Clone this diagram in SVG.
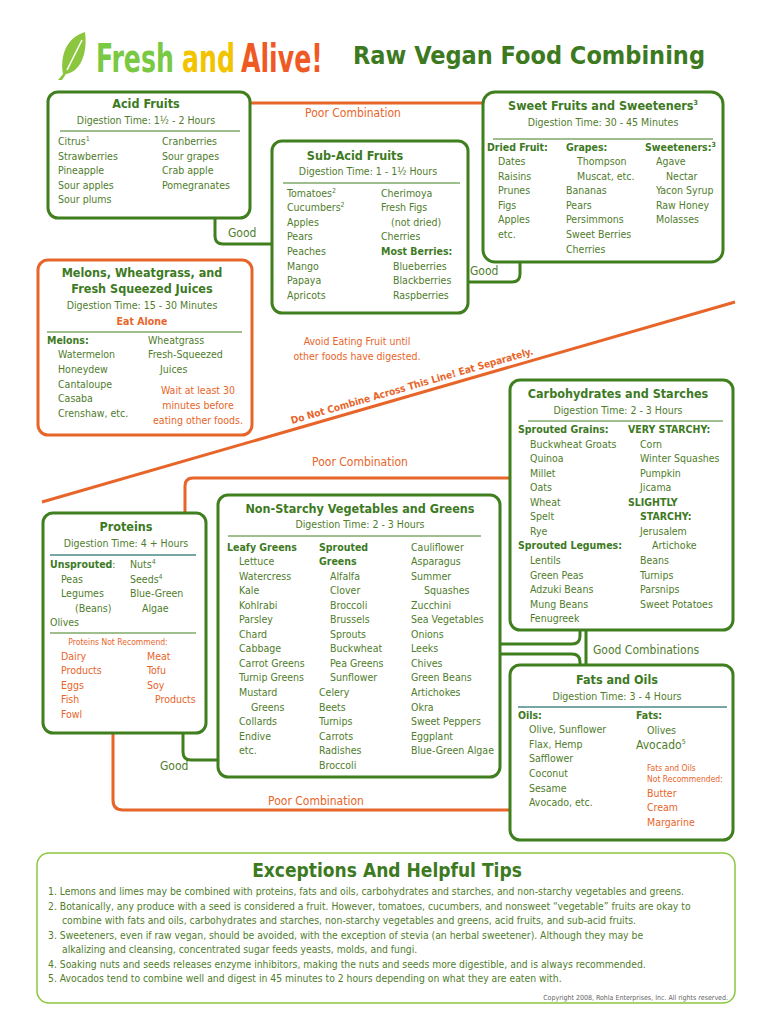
<svg xmlns="http://www.w3.org/2000/svg" width="768" height="1024" viewBox="0 0 768 1024">
<style>
text{font-family:"DejaVu Sans Condensed","Liberation Sans",sans-serif;fill:#4f7d2c;font-size:10.5px}
.t{font-size:12.5px;font-weight:bold;fill:#3d7a1f;text-anchor:middle}
.d{text-anchor:middle;font-size:10.5px}
.b{font-weight:bold;fill:#3d7a1f}
.o{fill:#e8652a}
.gb{fill:none;stroke:#3f7f1e;stroke-width:3}
.ob{fill:none;stroke:#e8652a;stroke-width:3}
.gl{stroke:#3f7f1e;stroke-width:1}
.tl{stroke:#4a8a86;stroke-width:1.5}
.cg{fill:none;stroke:#3f7f1e;stroke-width:3}
.co{fill:none;stroke:#e8652a;stroke-width:3}
.lab{font-size:12px}
.s{font-size:7px}
.tip{font-size:10.3px}
.h{font-family:"DejaVu Sans Condensed",sans-serif;font-size:28px;font-weight:bold}
</style>
<rect width="768" height="1024" fill="#fff"/>
<g id="header">
<path d="M85,32 C66,38 60,56 63,74 L58,80 L62,80 L66,74 C80,72 88,54 85,32 Z" fill="#8cc63f"/>
<path d="M82,40 L67,70" stroke="#fff" stroke-width="1.5"/>
<g transform="translate(0,72) scale(1,1.4)">
<text class="h" x="96" y="0" style="fill:#7ac943">Fresh</text>
<text class="h" x="182" y="0" style="fill:#f2c400">and</text>
<text class="h" x="241" y="0" style="fill:#ef5a24">Alive!</text>
</g>
<text x="353" y="64" textLength="352" lengthAdjust="spacingAndGlyphs" style="font-size:25px;font-weight:bold;fill:#3d7a1f">Raw Vegan Food Combining</text>
</g>
<g id="connectors">
<path class="co" d="M250,103 H483"/>
<text class="o lab" x="353" y="117" text-anchor="middle">Poor Combination</text>
<path class="cg" d="M215,218 V236 Q215,244 223,244 H272"/>
<text class="lab" x="228" y="237">Good</text>
<path class="cg" d="M520,262 V274 Q520,282 512,282 H468"/>
<text class="lab" x="470" y="275">Good</text>
<path class="co" d="M42,502 L735,302"/>
<text class="o b" x="0" y="0" transform="translate(292,424) rotate(-16.1)" style="font-size:10px;fill:#e8652a">Do Not Combine Across This Line! Eat Separately.</text>
<text class="o d" x="357" y="345">Avoid Eating Fruit until</text>
<text class="o d" x="357" y="360">other foods have digested.</text>
<path class="co" d="M510,478 H193 Q185,478 185,486 V513"/>
<text class="o lab" x="360" y="466" text-anchor="middle">Poor Combination</text>
<path class="co" d="M113,733 V800 Q113,810 123,810 H510"/>
<text class="o lab" x="316" y="805" text-anchor="middle">Poor Combination</text>
<path class="cg" d="M183,733 V752 Q183,760 191,760 H218"/>
<text class="lab" x="160" y="770">Good</text>
<path class="cg" d="M500,644 H572 Q580,644 580,636 V630 M500,654 H572 Q580,654 580,662 V665 M586,630 V665"/>
<text class="lab" x="593" y="654">Good Combinations</text>
</g>
<g id="acid">
<rect class="gb" x="48" y="92" width="202" height="126" rx="10"/>
<text class="t" x="146" y="108">Acid Fruits</text>
<text class="d" x="146" y="124">Digestion Time: 1½ - 2 Hours</text>
<line class="gl" x1="60" y1="131" x2="240" y2="131"/>
<text x="58" y="145">Citrus<tspan class="s" dy="-4">1</tspan></text>
<text x="58" y="160">Strawberries</text><text x="58" y="174">Pineapple</text><text x="58" y="189">Sour apples</text><text x="58" y="203">Sour plums</text>
<text x="162" y="145">Cranberries</text><text x="162" y="160">Sour grapes</text><text x="162" y="174">Crab apple</text><text x="162" y="189">Pomegranates</text>
</g>
<g id="subacid">
<rect class="gb" x="272" y="141" width="196" height="172" rx="10"/>
<text class="t" x="355" y="160">Sub-Acid Fruits</text>
<text class="d" x="368" y="175">Digestion Time: 1 - 1½ Hours</text>
<line class="gl" x1="283" y1="183" x2="460" y2="183"/>
<text x="287" y="197">Tomatoes<tspan class="s" dy="-4">2</tspan></text>
<text x="287" y="211">Cucumbers<tspan class="s" dy="-4">2</tspan></text>
<text x="287" y="226">Apples</text><text x="287" y="240">Pears</text><text x="287" y="255">Peaches</text><text x="287" y="270">Mango</text><text x="287" y="284">Papaya</text><text x="287" y="299">Apricots</text>
<text x="381" y="197">Cherimoya</text><text x="381" y="211">Fresh Figs</text><text x="391" y="226">(not dried)</text><text x="381" y="240">Cherries</text>
<text class="b" x="381" y="255">Most Berries:</text>
<text x="393" y="270">Blueberries</text><text x="393" y="284">Blackberries</text><text x="393" y="299">Raspberries</text>
</g>
<g id="sweet">
<rect class="gb" x="483" y="92" width="240" height="170" rx="12"/>
<text class="t" x="603" y="110">Sweet Fruits and Sweeteners<tspan class="s" dy="-5">3</tspan></text>
<text class="d" x="603" y="126">Digestion Time: 30 - 45 Minutes</text>
<line class="gl" x1="493" y1="139" x2="713" y2="139"/>
<text class="b" x="487" y="151">Dried Fruit:</text>
<text x="498" y="165">Dates</text><text x="498" y="180">Raisins</text><text x="498" y="194">Prunes</text><text x="498" y="209">Figs</text><text x="498" y="223">Apples</text><text x="498" y="238">etc.</text>
<text class="b" x="566" y="151">Grapes:</text>
<text x="577" y="165">Thompson</text><text x="577" y="180">Muscat, etc.</text><text x="566" y="194">Bananas</text><text x="566" y="209">Pears</text><text x="566" y="223">Persimmons</text><text x="566" y="238">Sweet Berries</text><text x="566" y="253">Cherries</text>
<text class="b" x="645" y="151">Sweeteners:<tspan class="s" dy="-4">3</tspan></text>
<text x="656" y="165">Agave</text><text x="666" y="180">Nectar</text><text x="656" y="194">Yacon Syrup</text><text x="656" y="209">Raw Honey</text><text x="656" y="223">Molasses</text>
</g>
<g id="melons">
<rect class="ob" x="38" y="260" width="214" height="175" rx="10"/>
<text class="t" x="142" y="277">Melons, Wheatgrass, and</text>
<text class="t" x="142" y="293">Fresh Squeezed Juices</text>
<text class="d" x="142" y="309">Digestion Time: 15 - 30 Minutes</text>
<text class="d o" x="142" y="325" style="font-weight:bold">Eat Alone</text>
<line class="gl" x1="47" y1="332" x2="242" y2="332"/>
<text class="b" x="47" y="344">Melons:</text>
<text x="58" y="358">Watermelon</text><text x="58" y="373">Honeydew</text><text x="58" y="388">Cantaloupe</text><text x="58" y="402">Casaba</text><text x="58" y="417">Crenshaw, etc.</text>
<text x="148" y="344">Wheatgrass</text><text x="148" y="358">Fresh-Squeezed</text><text x="160" y="373">Juices</text>
<text class="o d" x="198" y="394">Wait at least 30</text><text class="o d" x="198" y="409">minutes before</text><text class="o d" x="198" y="424">eating other foods.</text>
</g>
<g id="carbs">
<rect class="gb" x="510" y="380" width="223" height="250" rx="10"/>
<text class="t" x="618" y="398">Carbohydrates and Starches</text>
<text class="d" x="618" y="414">Digestion Time:  2 - 3 Hours</text>
<line class="gl" x1="528" y1="421" x2="723" y2="421"/>
<text class="b" x="518" y="433">Sprouted Grains:</text>
<text x="530" y="448">Buckwheat Groats</text><text x="530" y="462">Quinoa</text><text x="530" y="477">Millet</text><text x="530" y="491">Oats</text><text x="530" y="506">Wheat</text><text x="530" y="520">Spelt</text><text x="530" y="535">Rye</text>
<text class="b" x="518" y="549">Sprouted Legumes:</text>
<text x="530" y="564">Lentils</text><text x="530" y="579">Green Peas</text><text x="530" y="593">Adzuki Beans</text><text x="530" y="608">Mung Beans</text><text x="530" y="622">Fenugreek</text>
<text class="b" x="628" y="433">VERY STARCHY:</text>
<text x="640" y="448">Corn</text><text x="640" y="462">Winter Squashes</text><text x="640" y="477">Pumpkin</text><text x="640" y="491">Jicama</text>
<text class="b" x="628" y="506">SLIGHTLY</text><text class="b" x="640" y="520">STARCHY:</text>
<text x="640" y="535">Jerusalem</text><text x="652" y="549">Artichoke</text><text x="640" y="564">Beans</text><text x="640" y="579">Turnips</text><text x="640" y="593">Parsnips</text><text x="640" y="608">Sweet Potatoes</text>
</g>
<g id="proteins">
<rect class="gb" x="43" y="513" width="163" height="220" rx="10"/>
<text class="t" x="126" y="531">Proteins</text>
<text class="d" x="126" y="547">Digestion Time:  4 + Hours</text>
<line class="tl" x1="50" y1="555" x2="196" y2="555"/>
<text class="b" x="50" y="568">Unsprouted<tspan style="font-weight:normal">:</tspan></text>
<text x="61" y="583">Peas</text><text x="61" y="597">Legumes</text><text x="75" y="612">(Beans)</text><text x="50" y="626">Olives</text>
<text x="130" y="568">Nuts<tspan class="s" dy="-4">4</tspan></text><text x="130" y="583">Seeds<tspan class="s" dy="-4">4</tspan></text><text x="130" y="597">Blue-Green</text><text x="142" y="612">Algae</text>
<line class="gl" x1="50" y1="633" x2="196" y2="633"/>
<text class="o d" x="118" y="645" style="font-size:8.5px">Proteins Not Recommend:</text>
<text class="o" x="61" y="660">Dairy</text><text class="o" x="61" y="674">Products</text><text class="o" x="61" y="689">Eggs</text><text class="o" x="61" y="703">Fish</text><text class="o" x="61" y="718">Fowl</text>
<text class="o" x="147" y="660">Meat</text><text class="o" x="147" y="674">Tofu</text><text class="o" x="147" y="689">Soy</text><text class="o" x="155" y="703">Products</text>
</g>
<g id="nonstarchy">
<rect class="gb" x="218" y="495" width="282" height="282" rx="10"/>
<text class="t" x="360" y="513">Non-Starchy Vegetables and Greens</text>
<text class="d" x="360" y="528">Digestion Time:  2 - 3 Hours</text>
<line class="gl" x1="228" y1="536" x2="481" y2="536"/>
<text class="b" x="227" y="551">Leafy Greens</text>
<text x="239" y="565">Lettuce</text><text x="239" y="580">Watercress</text><text x="239" y="594">Kale</text><text x="239" y="609">Kohlrabi</text><text x="239" y="623">Parsley</text><text x="239" y="638">Chard</text><text x="239" y="652">Cabbage</text><text x="239" y="667">Carrot Greens</text><text x="239" y="681">Turnip Greens</text><text x="239" y="696">Mustard</text><text x="251" y="711">Greens</text><text x="239" y="725">Collards</text><text x="239" y="740">Endive</text><text x="239" y="754">etc.</text>
<text class="b" x="319" y="551">Sprouted</text><text class="b" x="319" y="565">Greens</text>
<text x="330" y="580">Alfalfa</text><text x="330" y="594">Clover</text><text x="330" y="609">Broccoli</text><text x="330" y="623">Brussels</text><text x="330" y="638">Sprouts</text><text x="330" y="652">Buckwheat</text><text x="330" y="667">Pea Greens</text><text x="330" y="681">Sunflower</text>
<text x="319" y="696">Celery</text><text x="319" y="711">Beets</text><text x="319" y="725">Turnips</text><text x="319" y="740">Carrots</text><text x="319" y="754">Radishes</text><text x="319" y="769">Broccoli</text>
<text x="411" y="551">Cauliflower</text><text x="411" y="565">Asparagus</text><text x="411" y="580">Summer</text><text x="424" y="594">Squashes</text><text x="411" y="609">Zucchini</text><text x="411" y="623">Sea Vegetables</text><text x="411" y="638">Onions</text><text x="411" y="652">Leeks</text><text x="411" y="667">Chives</text><text x="411" y="681">Green Beans</text><text x="411" y="696">Artichokes</text><text x="411" y="711">Okra</text><text x="411" y="725">Sweet Peppers</text><text x="411" y="740">Eggplant</text><text x="411" y="754">Blue-Green Algae</text>
</g>
<g id="fats">
<rect class="gb" x="510" y="665" width="223" height="175" rx="10"/>
<text class="t" x="617" y="684">Fats and Oils</text>
<text class="d" x="617" y="700">Digestion Time: 3 - 4 Hours</text>
<line class="tl" x1="518" y1="707" x2="727" y2="707"/>
<text class="b" x="518" y="719">Oils:</text>
<text x="529" y="733">Olive, Sunflower</text><text x="529" y="748">Flax, Hemp</text><text x="529" y="762">Safflower</text><text x="529" y="777">Coconut</text><text x="529" y="792">Sesame</text><text x="529" y="806">Avocado, etc.</text>
<text class="b" x="636" y="719">Fats:</text>
<text x="647" y="734">Olives</text>
<text x="636" y="749" style="font-size:12px">Avocado<tspan class="s" dy="-5">5</tspan></text>
<text class="o" x="647" y="771" style="font-size:8.5px">Fats and Oils</text>
<text class="o" x="647" y="782" style="font-size:8.5px">Not Recommended:</text>
<text class="o" x="647" y="797">Butter</text><text class="o" x="647" y="811">Cream</text><text class="o" x="647" y="826">Margarine</text>
</g>
<g id="tips">
<rect x="37" y="853" width="698" height="150" rx="12" fill="none" stroke="#8cc63f" stroke-width="1.5"/>
<text x="387" y="877" text-anchor="middle" style="font-size:19px;font-weight:bold;fill:#3d7a1f">Exceptions And Helpful Tips</text>
<text class="tip" x="48" y="895">1. Lemons and limes may be combined with proteins, fats and oils, carbohydrates and starches, and non-starchy vegetables and greens.</text>
<text class="tip" x="48" y="910">2. Botanically, any produce with a seed is considered a fruit.  However, tomatoes, cucumbers, and nonsweet “vegetable” fruits are okay to</text>
<text class="tip" x="62" y="924">combine with fats and oils, carbohydrates and starches, non-starchy vegetables and greens, acid fruits, and sub-acid fruits.</text>
<text class="tip" x="48" y="939">3. Sweeteners, even if raw vegan, should be avoided, with the exception of stevia (an herbal sweetener). Although they may be</text>
<text class="tip" x="62" y="953">alkalizing and cleansing, concentrated sugar feeds yeasts, molds, and fungi.</text>
<text class="tip" x="48" y="968">4. Soaking nuts and seeds releases enzyme inhibitors, making the nuts and seeds more digestible, and is always recommended.</text>
<text class="tip" x="48" y="982">5. Avocados tend to combine well and digest in 45 minutes to 2 hours depending on what they are eaten with.</text>
<text x="728" y="1000" text-anchor="end" style="font-size:7px;fill:#666">Copyright 2008, Rohla Enterprises, Inc. All rights reserved.</text>
</g>
</svg>
